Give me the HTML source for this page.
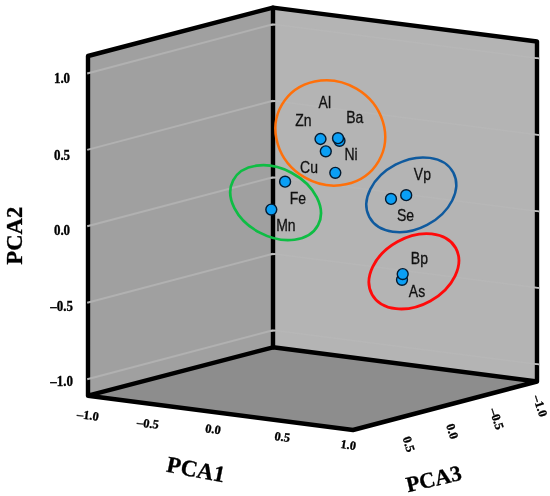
<!DOCTYPE html>
<html><head><meta charset="utf-8"><style>
html,body{margin:0;padding:0;background:#fff;width:550px;height:496px;overflow:hidden}
svg{display:block}
.lb{font-family:"Liberation Sans",Arial,sans-serif;font-size:14px;fill:#111;stroke:#111;stroke-width:0.25px}
.tk{font-family:"Liberation Serif","Times New Roman",serif;font-weight:bold;font-size:12.5px;fill:#000;stroke:#000;stroke-width:0.3px}
.ti{font-family:"Liberation Serif","Times New Roman",serif;font-weight:bold;font-size:22px;fill:#000;stroke:#000;stroke-width:0.3px}
</style></head><body>
<svg width="550" height="496" viewBox="0 0 550 496">
<!-- walls -->
<polygon points="88,56 273,7.6 273,347.3 88,395.7" fill="#a0a0a0"/>
<polygon points="273,7.6 537,41.5 537,381.5 273,347.3" fill="#b4b4b4"/>
<polygon points="88,395.7 273,347.3 537,381.5 353,430" fill="#8d8d8d"/>
<!-- edges -->
<g stroke="#000" stroke-width="4.4" fill="none" stroke-linejoin="round" stroke-linecap="round">
<polyline points="88,395.7 88,56 273,7.6 537,41.5 537,381.5 353,430 88,395.7 273,347.3 537,381.5"/>
<line x1="273" y1="7.6" x2="273" y2="347.3"/>
</g>
<!-- gridlines -->
<g stroke="#b1b1b1" stroke-width="2" fill="none">
<line x1="87.2" y1="73.41" x2="273" y2="24.30"/>
<line x1="87.2" y1="149.86" x2="273" y2="100.80"/>
<line x1="87.2" y1="226.31" x2="273" y2="177.30"/>
<line x1="87.2" y1="302.76" x2="273" y2="253.80"/>
<line x1="87.2" y1="379.21" x2="273" y2="330.30"/>
</g>
<g stroke="#b7b7b7" stroke-width="1.6" fill="none">
<line x1="273" y1="24.30" x2="539.5" y2="58.52"/>
<line x1="273" y1="100.80" x2="539.5" y2="135.02"/>
<line x1="273" y1="177.30" x2="539.5" y2="211.52"/>
<line x1="273" y1="253.80" x2="539.5" y2="288.02"/>
<line x1="273" y1="330.30" x2="539.5" y2="364.52"/>
</g>
<g stroke="#c0c0c0" stroke-width="1.6" fill="none">
<line x1="270.8" y1="24.88" x2="275.2" y2="24.58"/>
<line x1="534.8" y1="57.92" x2="539.5" y2="58.52"/>
<line x1="270.8" y1="101.38" x2="275.2" y2="101.08"/>
<line x1="534.8" y1="134.42" x2="539.5" y2="135.02"/>
<line x1="270.8" y1="177.88" x2="275.2" y2="177.58"/>
<line x1="534.8" y1="210.92" x2="539.5" y2="211.52"/>
<line x1="270.8" y1="254.38" x2="275.2" y2="254.08"/>
<line x1="534.8" y1="287.42" x2="539.5" y2="288.02"/>
<line x1="270.8" y1="330.88" x2="275.2" y2="330.58"/>
<line x1="534.8" y1="363.92" x2="539.5" y2="364.52"/>
</g>
<!-- ellipses -->
<ellipse cx="330.3" cy="132.9" rx="56" ry="51.4" transform="rotate(30.5 330.3 132.9)" fill="none" stroke="#ff700a" stroke-width="2.5"/>
<ellipse cx="275.6" cy="202.7" rx="48" ry="33.9" transform="rotate(27.85 275.6 202.7)" fill="none" stroke="#0ebd44" stroke-width="2.7"/>
<ellipse cx="411.3" cy="194.8" rx="47.5" ry="34" transform="rotate(-27.75 411.3 194.8)" fill="none" stroke="#0f5a9e" stroke-width="2.5"/>
<ellipse cx="413.9" cy="271.3" rx="47.85" ry="33.9" transform="rotate(-29.1 413.9 271.3)" fill="none" stroke="#ff0a0a" stroke-width="2.8"/>
<!-- points -->
<g fill="#0a9ff5" stroke="#031a30" stroke-width="1.4">
<circle cx="320.5" cy="139" r="5.45"/>
<circle cx="339.5" cy="140.8" r="5.45"/>
<circle cx="338" cy="138.2" r="5.45"/>
<circle cx="325.8" cy="151.3" r="5.45"/>
<circle cx="335.3" cy="172.8" r="5.45"/>
<circle cx="285.1" cy="181.7" r="5.45"/>
<circle cx="271.3" cy="209.6" r="5.45"/>
<circle cx="391" cy="198.9" r="5.45"/>
<circle cx="406.2" cy="195.2" r="5.45"/>
<circle cx="402" cy="279.8" r="5.45"/>
<circle cx="402.7" cy="274.1" r="5.45"/>
</g>
<!-- labels -->
<g class="lb" text-anchor="middle">
<text transform="translate(324.8 107.5) scale(1 1.15)">Al</text>
<text transform="translate(303.3 125.6) scale(1 1.15)">Zn</text>
<text transform="translate(354.8 123.2) scale(1 1.15)">Ba</text>
<text transform="translate(351 160.4) scale(1 1.15)">Ni</text>
<text transform="translate(309 172.8) scale(1 1.15)">Cu</text>
<text transform="translate(297.9 204.2) scale(1 1.15)">Fe</text>
<text transform="translate(285.9 231.1) scale(1 1.15)">Mn</text>
<text transform="translate(422.4 180.2) scale(1 1.15)">Vp</text>
<text transform="translate(405.5 220.7) scale(1 1.15)">Se</text>
<text transform="translate(419.4 263.5) scale(1 1.15)">Bp</text>
<text transform="translate(417 296.6) scale(1 1.15)">As</text>
</g>
<!-- Y ticks -->
<g class="tk" text-anchor="middle">
<text transform="translate(62 83.2) scale(1.04 1.1)">1.0</text>
<text transform="translate(62 159.8) scale(1.04 1.1)">0.5</text>
<text transform="translate(62 235.1) scale(1.04 1.1)">0.0</text>
<text transform="translate(61.7 310.7) scale(1.04 1.1)">&#8211;0.5</text>
<text transform="translate(61.6 386) scale(1.04 1.1)">&#8211;1.0</text>
</g>
<!-- PCA1 ticks -->
<g class="tk" text-anchor="middle">
<text transform="translate(87.4 419.4) rotate(6.5) skewX(-2)">&#8211;1.0</text>
<text transform="translate(147.4 427.5) rotate(6.5) skewX(-2)">&#8211;0.5</text>
<text transform="translate(212.5 433.2) rotate(6.5) skewX(-2)">0.0</text>
<text transform="translate(281.8 441) rotate(6.5) skewX(-2)">0.5</text>
<text transform="translate(347.8 449) rotate(6.5) skewX(-2)">1.0</text>
</g>
<!-- PCA3 ticks -->
<g class="tk" text-anchor="middle">
<text transform="translate(408.6 444.2) rotate(72) translate(0 4)">0.5</text>
<text transform="translate(452.1 431.4) rotate(72) translate(0 4)">0.0</text>
<text transform="translate(496.5 418.9) rotate(72) translate(0 4)">&#8211;0.5</text>
<text transform="translate(540 406) rotate(72) translate(0 4)">&#8211;1.0</text>
</g>
<!-- titles -->
<text class="ti" text-anchor="middle" style="font-size:22.7px" transform="translate(14.3 235.7) rotate(-90) translate(0 7.6)">PCA2</text>
<text class="ti" text-anchor="middle" style="font-size:23px" transform="translate(196 469.5) rotate(10.5) skewX(-1) translate(0 7.6)">PCA1</text>
<text class="ti" text-anchor="middle" transform="translate(433.7 478.9) rotate(-13) translate(0 7.2)">PCA3</text>
</svg>
</body></html>
